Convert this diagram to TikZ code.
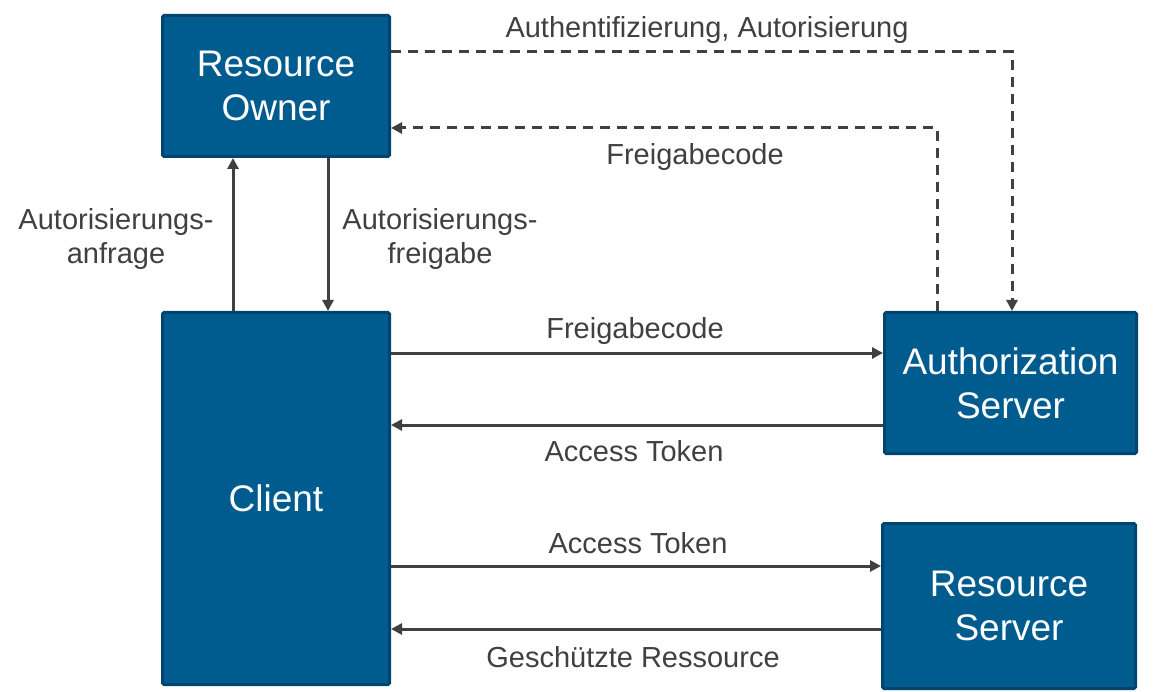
\documentclass[tikz,border=0pt]{standalone}
\usepackage{fontspec}
\setmainfont{Liberation Sans}
\usetikzlibrary{arrows.meta}
\definecolor{boxfill}{HTML}{005B8F}
\definecolor{boxline}{HTML}{004470}
\definecolor{arrowc}{HTML}{404040}
\definecolor{labelc}{HTML}{404040}
\tikzset{
  box/.style={draw=boxline, fill=boxfill, line width=3pt, rounded corners=1.5pt, text=white,
    align=center, inner sep=0pt, font=\fontsize{37}{44}\selectfont},
  conn/.style={draw=arrowc, line width=3pt, -{Triangle[length=11pt,width=11pt]}},
  dconn/.style={conn, dash pattern=on 10pt off 7pt},
  lbl/.style={text=labelc, align=center, inner sep=0pt, font=\fontsize{29}{34}\selectfont}
}
\begin{document}
\begin{tikzpicture}[x=1pt,y=-1pt]
\useasboundingbox (0,0) rectangle (1153,692);
\node[box, minimum width=227pt, minimum height=141pt] (ro) at (276,86) {Resource\\Owner};
\node[box, minimum width=227pt, minimum height=372pt] (client) at (276,498.5) {Client};
\node[box, minimum width=252pt, minimum height=141pt] (as) at (1010.5,383) {Authorization\\Server};
\node[box, minimum width=253pt, minimum height=165pt] (rs) at (1009,606) {Resource\\Server};

% vertical arrows client <-> resource owner
\draw[conn] ([xshift=-43pt]client.north) -- ([xshift=-43pt]ro.south);
\draw[conn] ([xshift=52pt]ro.south) -- ([xshift=52pt]client.north);

% dashed arrows
\coordinate (d1) at (1012,52);
\coordinate (d2) at (937,128);
\draw[dconn] (ro.east |- d1) -- (d1) -- (as.north -| d1);
\draw[dconn] (as.north -| d2) -- (d2) -- (ro.east |- d2);

% horizontal arrows
\coordinate (h1) at (0,353);
\coordinate (h2) at (0,425);
\coordinate (h3) at (0,566);
\coordinate (h4) at (0,629);
\draw[conn] (client.east |- h1) -- (as.west |- h1);
\draw[conn] (as.west |- h2) -- (client.east |- h2);
\draw[conn] (client.east |- h3) -- (rs.west |- h3);
\draw[conn] (rs.west |- h4) -- (client.east |- h4);

% labels
\node[lbl] (l1) at (707,30) {Authentifizierung, Autorisierung};
\node[lbl] (l2) at (695,157) {Freigabecode};
\node[lbl] (l3) at (116,239) {Autorisierungs-\\anfrage};
\node[lbl] (l4) at (440,239) {Autorisierungs-\\freigabe};
\node[lbl] (l5) at (635,331) {Freigabecode};
\node[lbl] (l6) at (634,451) {Access Token};
\node[lbl] (l7) at (638,543) {Access Token};
\node[lbl] (l8) at (633,657) {Geschützte Ressource};
\end{tikzpicture}
\end{document}
